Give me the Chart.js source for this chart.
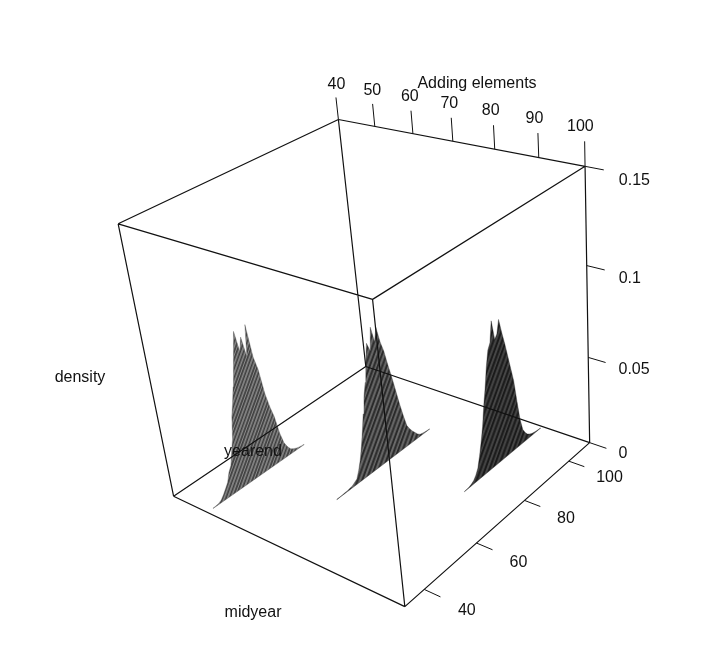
<!DOCTYPE html>
<html><head><meta charset="utf-8">
<style>html,body{margin:0;padding:0;background:#fff}#w{position:relative;width:725px;height:660px}</style>
<script src="https://cdn.jsdelivr.net/npm/chart.js@4"></script>
</head><body><div id="w"><canvas id="c" width="725" height="660"></canvas></div>
<script>
// ---- data ----
const titleText = "Adding elements";
const midyearTicks = [40,50,60,70,80,90,100];
const yearendTicks = [40,60,80,100];
const densityTicks = [0,0.05,0.1,0.15];
const densityTickLabels = ["0","0.05","0.1","0.15"];
const midyearRange = [40,100];
const yearendRange = [33,110];
const densityRange = [0,0.15];

const ridge1Midyear = 50;
const ridge1Yearend = [35,36,37,38,39,40,41,42,43,44,45,46,47,48,49,50,51,52,53,54,55,56,57,58,59,60,61,62,63,64,65,66,67,68,69];
const ridge1Density = [.0002,.0003,.0006,.0015,.0035,.006,.0085,.0135,.0165,.0235,.03,.042,.049,.057,.065,.075,.085,.073,.08,.068,.085,.066,.058,.043,.034,.027,.016,.009,.0055,.003,.002,.0012,.0007,.0004,.0002];

const ridge2Midyear = 69;
const ridge2Yearend = [55,56,57,58,59,60,61,62,63,64,65,66,67,68,69,70,71,72,73,74,75,76,77,78,79,80,81,82,83,84,85,86,87,88,89,90,91,92,93];
const ridge2Density = [.0002,.0002,.0003,.0004,.0005,.0008,.001,.002,.003,.007,.012,.019,.027,.036,.045,.052,.062,.072,.067,.079,.07,.077,.068,.062,.053,.045,.036,.027,.019,.012,.009,.0065,.0045,.0025,.0012,.0008,.0005,.0003,.0002];

const ridge3Midyear = 88.6;
const ridge3Yearend = [75,76,77,78,79,80,81,82,83,84,85,86,87,88,89,90,91,92,93,94,95,96,97,98,99,100,101,102,103,104,105,106,107,108,109];
const ridge3Density = [.0002,.0003,.0005,.001,.002,.004,.007,.013,.02,.028,.039,.048,.059,.067,.07,.081,.07,.072,.079,.071,.064,.056,.048,.04,.027,.015,.008,.005,.003,.002,.0012,.0008,.0005,.0003,.0002];

// ---- the view: where the box corners fall on the page ----
const viewCorners = [
 [0,0,1,118,224],[0,1,1,339,119],[1,1,1,585,167],[1,0,1,372,299],
 [0,0,0,174,496],[0,1,0,365,367],[1,1,0,590,442],[1,0,0,405,607]];

function solveView(){
  const A=[],b=[],S=1000;
  for(const [X,Y,Z,px,py] of viewCorners){
    const x=px/S,y=py/S;
    A.push([X,Y,Z,1,0,0,0,0,-x*X,-x*Y,-x*Z]);b.push(x);
    A.push([0,0,0,0,X,Y,Z,1,-y*X,-y*Y,-y*Z]);b.push(y);
  }
  const n=11,M=[];
  for(let i=0;i<n;i++){M[i]=[];for(let j=0;j<=n;j++){let s=0;
    for(let r=0;r<A.length;r++)s+=A[r][i]*(j<n?A[r][j]:b[r]);M[i][j]=s;}}
  for(let i=0;i<n;i++){let p=i;for(let r=i+1;r<n;r++)if(Math.abs(M[r][i])>Math.abs(M[p][i]))p=r;
    [M[i],M[p]]=[M[p],M[i]];
    for(let r=0;r<n;r++){if(r===i)continue;const f=M[r][i]/M[i][i];for(let j=i;j<=n;j++)M[r][j]-=f*M[i][j];}}
  return M.map((r,i)=>r[n]/r[i]);
}
const V=solveView();
function unit(m,y,d){return [(m-midyearRange[0])/(midyearRange[1]-midyearRange[0]),
  (y-yearendRange[0])/(yearendRange[1]-yearendRange[0]),(d-densityRange[0])/(densityRange[1]-densityRange[0])];}
function projUnit(u,v,w){const h=V[8]*u+V[9]*v+V[10]*w+1;
  return {x:1000*(V[0]*u+V[1]*v+V[2]*w+V[3])/h,y:1000*(V[4]*u+V[5]*v+V[6]*w+V[7])/h};}
function proj(m,y,d){const [u,v,w]=unit(m,y,d);return projUnit(u,v,w);}

function ridgePoints(m,ys,ds){
  const pts=[proj(m,ys[0],0)];
  ys.forEach((y,i)=>pts.push(proj(m,y,ds[i])));
  pts.push(proj(m,ys[ys.length-1],0));
  pts.push(proj(m,ys[0],0));
  return pts;
}
function hatch(dark,light,period,lean){
  const cv=document.createElement('canvas');cv.width=period*4;cv.height=4;
  const g=cv.getContext('2d');g.fillStyle=light;g.fillRect(0,0,cv.width,4);
  g.fillStyle=dark;for(let i=0;i<4;i++)g.fillRect(i*period,0,period*0.5,4);
  const p=g.createPattern(cv,'repeat');
  p.setTransform(new DOMMatrix().skewX(-lean));
  return p;
}
function segs(list){const out=[];for(const [a,b] of list){out.push(projUnit(...a),projUnit(...b),{x:null,y:null});}return out;}

const boxEdges=[
 [[0,0,1],[0,1,1]],[[0,1,1],[1,1,1]],[[1,1,1],[1,0,1]],[[1,0,1],[0,0,1]],
 [[0,0,0],[1,0,0]],[[1,0,0],[1,1,0]],[[1,1,0],[0,1,0]],[[0,1,0],[0,0,0]],
 [[0,0,0],[0,0,1]],[[0,1,0],[0,1,1]],[[1,1,0],[1,1,1]],[[1,0,0],[1,0,1]]];
const ticks=[];
midyearTicks.forEach(m=>{const [u,v,w]=unit(m,yearendRange[1],densityRange[1]);ticks.push([[u,v,w],[u,v,w+0.08]]);});
yearendTicks.forEach(y=>{const [u,v,w]=unit(midyearRange[1],y,0);ticks.push([[u,v,w],[u+0.06,v,w]]);});
densityTicks.forEach(d=>{const [u,v,w]=unit(midyearRange[1],yearendRange[1],d);ticks.push([[u,v,w],[u+0.065,v,w]]);});

const ink='#111';
function ridgeSet(pts,pattern,edge,ord){return {data:pts,showLine:true,pointRadius:0,borderColor:edge,borderWidth:0.35,
  backgroundColor:pattern,fill:'shape',order:ord,tension:0};}
function lineSet(pts,w,ord){return {data:pts,showLine:true,pointRadius:0,borderColor:ink,borderWidth:w,fill:false,order:ord,spanGaps:false};}

const textPlugin={id:'plotText',afterDatasetsDraw(ch){
  const c=ch.ctx,sx=ch.scales.x,sy=ch.scales.y;
  c.save();c.fillStyle='#111';c.textAlign='center';c.textBaseline='middle';c.font='16px "Liberation Sans", Arial, sans-serif';
  const put=(t,p)=>c.fillText(t,sx.getPixelForValue(p.x),sy.getPixelForValue(p.y));
  midyearTicks.forEach(m=>{const [u,v,w]=unit(m,yearendRange[1],densityRange[1]);const p=projUnit(u,v,w+0.127);put(String(m),{x:p.x+2-6*u,y:p.y});});
  yearendTicks.forEach(y=>{const [u,v,w]=unit(midyearRange[1],y,0);const p=projUnit(u+0.155,v,w);put(String(y),{x:p.x,y:p.y+2});});
  put(titleText,{x:477,y:84});
  put('density',{x:80,y:378});
  put('midyear',{x:253,y:613});
  put('yearend',{x:253,y:452});
  c.textAlign='left';
  densityTicks.forEach((d,i)=>{const [u,v,w]=unit(midyearRange[1],yearendRange[1],d);const p=projUnit(u+0.16,v,w);put(densityTickLabels[i],{x:p.x-13,y:p.y+8*w-3});});
  c.restore();
}};

new Chart(document.getElementById('c'),{
  type:'scatter',
  data:{datasets:[
    lineSet(segs(boxEdges),1.2,1),
    lineSet(segs(ticks),1,1),
    ridgeSet(ridgePoints(ridge1Midyear,ridge1Yearend,ridge1Density),hatch('#3c3c3c','#8c8c8c',3.4,20),'#555',3),
    ridgeSet(ridgePoints(ridge2Midyear,ridge2Yearend,ridge2Density),hatch('#2a2a2a','#6a6a6a',4.4,20),'#3a3a3a',3),
    ridgeSet(ridgePoints(ridge3Midyear,ridge3Yearend,ridge3Density),hatch('#1a1a1a','#464646',4.4,20),'#222',3)
  ]},
  options:{responsive:false,animation:false,layout:{padding:0},
    plugins:{legend:{display:false},title:{display:false},tooltip:{enabled:false}},
    scales:{x:{type:'linear',min:0,max:725,display:false},y:{type:'linear',min:0,max:660,reverse:true,display:false}}},
  plugins:[textPlugin]
});
</script></body></html>
